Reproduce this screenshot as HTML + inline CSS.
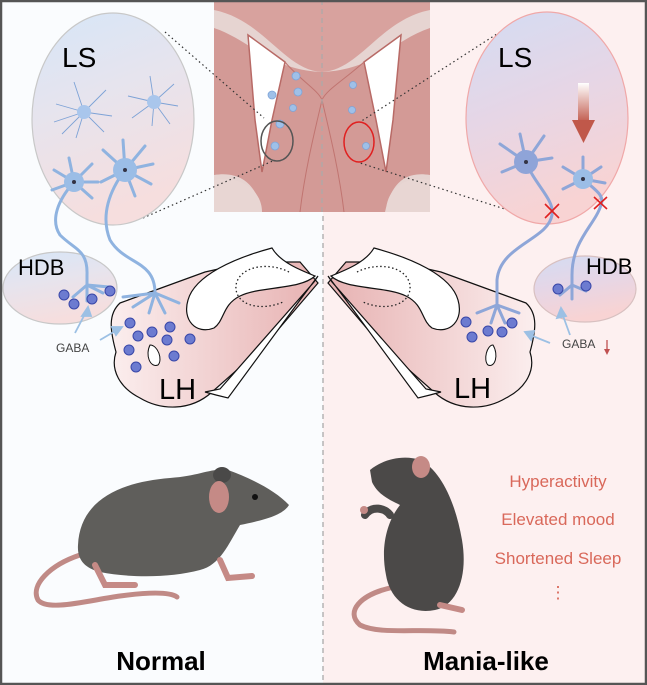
<!DOCTYPE html>
<html><head><meta charset="utf-8"><style>
html,body{margin:0;padding:0;background:#fff}
svg{display:block}
text{font-family:"Liberation Sans",sans-serif}
</style></head><body>
<svg width="647" height="685" viewBox="0 0 647 685" xmlns="http://www.w3.org/2000/svg">
<defs>
<linearGradient id="ls" x1="0" y1="0" x2="0.3" y2="1">
<stop offset="0" stop-color="#d6e6f8"/><stop offset="0.45" stop-color="#e6e4ee"/><stop offset="1" stop-color="#f6dede"/></linearGradient>
<linearGradient id="lsr" x1="0" y1="0" x2="0.3" y2="1">
<stop offset="0" stop-color="#d3dcf3"/><stop offset="0.5" stop-color="#e6d6e6"/><stop offset="1" stop-color="#f8d3d3"/></linearGradient>
<linearGradient id="lh" x1="0" y1="0" x2="1" y2="0">
<stop offset="0" stop-color="#fbeeee"/><stop offset="1" stop-color="#e7b2b2"/></linearGradient>
<linearGradient id="arr" x1="0" y1="0" x2="0" y2="1">
<stop offset="0" stop-color="#fff"/><stop offset="1" stop-color="#c0584a"/></linearGradient>
<g id="lhshape">
<path d="M120,303 C150,292 175,283 205,272 L250,262 L300,262 L318,283 L265,345 L212,392 C190,412 160,410 140,398 C120,388 110,370 116,352 C110,330 108,314 120,303 Z" fill="url(#lh)" stroke="#111" stroke-width="1.2"/>
<path d="M205,392 L220,389 L314,282 L318,276 L300,300 L228,398 L216,395 Z" fill="#fff" stroke="#111" stroke-width="1.2"/>
<path d="M272,248 C235,258 195,275 188,300 C182,320 196,335 214,328 C225,320 222,305 240,296 C260,286 300,290 315,276 C300,270 280,262 272,248 Z" fill="#fff" stroke="#111" stroke-width="1.2"/>
<path d="M289,272 C270,262 240,265 236,285 C234,305 260,312 283,302" fill="none" stroke="#222" stroke-width="1.3" stroke-dasharray="1.5,2.5"/>
</g>
</defs>
<rect x="0" y="0" width="647" height="685" fill="#fafcfe"/>
<rect x="323" y="0" width="324" height="685" fill="#fdf0f0"/>
<line x1="323" y1="0" x2="323" y2="685" stroke="#aaa" stroke-width="1.3" stroke-dasharray="5,4"/>

<!-- center brain section -->
<rect x="214" y="0" width="216" height="212" fill="#e6d4d1"/>
<path d="M214,0 L430,0 L430,10 C380,20 360,70 322,72 C284,70 264,20 214,10 Z" fill="#d8a29e"/>
<path d="M214,28 C250,40 270,70 322,72 C374,70 394,40 430,28 L430,175 C400,170 390,190 385,212 L262,212 C258,190 245,170 214,175 Z" fill="#d39a96"/>
<path d="M248,35 L285,62 L272,120 L262,172 L255,120 Z" fill="#fff" stroke="#b86a66" stroke-width="1.5"/>
<path d="M401,35 L364,62 L376,120 L386,172 L393,120 Z" fill="#fff" stroke="#b86a66" stroke-width="1.5"/>
<path d="M285,62 C300,80 318,90 322,100 C326,90 344,80 364,62" fill="none" stroke="#c07470" stroke-width="1"/>
<path d="M300,212 C305,170 315,130 322,100 C329,130 339,170 344,212" fill="none" stroke="#c07470" stroke-width="1"/>
<path d="M214,180 C240,175 262,190 262,212 L214,212 Z" fill="#e8d6d3"/>
<path d="M430,180 C404,175 386,190 386,212 L430,212 Z" fill="#e8d6d3"/>
<line x1="322" y1="0" x2="322" y2="212" stroke="#aaa" stroke-width="1.2" stroke-dasharray="5,4"/>
<g fill="#9fc0e8" stroke="#7ea4d8" stroke-width="0.8">
<circle cx="296" cy="76" r="4"/><circle cx="272" cy="95" r="4"/><circle cx="298" cy="92" r="4"/><circle cx="293" cy="108" r="3.5"/><circle cx="280" cy="124" r="4"/><circle cx="275" cy="146" r="4"/><circle cx="353" cy="85" r="3.5"/><circle cx="352" cy="110" r="3.5"/><circle cx="366" cy="146" r="3.5"/></g>
<ellipse cx="277" cy="141" rx="16" ry="20" fill="none" stroke="#555" stroke-width="1.5"/>
<ellipse cx="359" cy="142" rx="15" ry="20" fill="none" stroke="#e02020" stroke-width="1.5"/>
<g stroke="#333" stroke-width="1.2" stroke-dasharray="1.5,3" fill="none">
<line x1="165" y1="32" x2="264" y2="118"/><line x1="143" y1="218" x2="275" y2="160"/>
<line x1="500" y1="32" x2="360" y2="122"/><line x1="508" y1="210" x2="360" y2="163"/></g>

<!-- ellipses -->
<ellipse cx="113" cy="119" rx="81" ry="106" fill="url(#ls)" stroke="#c8c8c8" stroke-width="1.2"/>
<ellipse cx="547" cy="118" rx="81" ry="106" fill="url(#lsr)" stroke="#f0a8a8" stroke-width="1.2"/>
<ellipse cx="60" cy="288" rx="57" ry="36" fill="url(#ls)" stroke="#c8c8c8" stroke-width="1.2"/>
<ellipse cx="585" cy="289" rx="51" ry="33" fill="url(#lsr)" stroke="#d8c0c0" stroke-width="1.2"/>

<use href="#lhshape"/>
<use href="#lhshape" transform="translate(646,0) scale(-1,1)"/>

<!-- left LS small neurons -->
<g stroke="#7da2d6" stroke-width="0.9" fill="none">
<path d="M84,112 l-28,-8 M84,112 l-30,10 M84,112 l-10,-30 M84,112 l22,-22 M84,112 l28,4 M84,112 l20,20 M84,112 l-8,26 M84,112 l-22,22"/>
<path d="M154,102 l-26,-6 M154,102 l-22,16 M154,102 l-4,-26 M154,102 l20,-18 M154,102 l24,4 M154,102 l16,22 M154,102 l-2,24"/></g>
<circle cx="84" cy="112" r="7" fill="#a9c6ec"/><circle cx="154" cy="102" r="7" fill="#a9c6ec"/>

<!-- left neurons + axons -->
<g stroke="#8fb3e0" stroke-width="3" fill="none" stroke-linecap="round">
<path d="M74,182 C58,200 50,220 60,235 C75,250 88,250 87,275 L87,285 M87,285 l-14,12 M87,285 l0,16 M87,285 l16,8 M87,285 l22,2"/>
<path d="M125,170 C110,190 100,215 110,240 C125,265 155,260 155,293 M155,293 l-22,14 M155,293 l-6,20 M155,293 l10,20 M155,293 l24,10 M155,293 l-32,4"/>
<path d="M74,182 l-20,-12 M74,182 l-5,-24 M74,182 l18,-18 M74,182 l24,0 M74,182 l18,16 M74,182 l-22,8"/>
<path d="M125,170 l-22,-20 M125,170 l-2,-30 M125,170 l20,-24 M125,170 l28,-6 M125,170 l26,14 M125,170 l10,26 M125,170 l-24,12"/></g>
<circle cx="74" cy="182" r="10" fill="#9bbde6"/><circle cx="74" cy="182" r="2" fill="#334"/>
<circle cx="125" cy="170" r="12" fill="#9bbde6"/><circle cx="125" cy="170" r="2" fill="#334"/>

<!-- right neurons -->
<g stroke="#8ea6d8" stroke-width="3" fill="none" stroke-linecap="round">
<path d="M526,162 C535,185 555,200 552,215 C548,240 500,245 497,280 L497,305 M497,305 l-20,8 M497,305 l-6,18 M497,305 l8,18 M497,305 l22,8"/>
<path d="M583,179 C595,190 605,195 601,205 C595,225 572,240 572,275 L572,285 M572,285 l-12,10 M572,285 l0,14 M572,285 l14,6"/>
<path d="M526,162 l-26,-18 M526,162 l-6,-28 M526,162 l18,-26 M526,162 l26,-4 M526,162 l-24,10"/>
<path d="M583,179 l-20,-12 M583,179 l0,-22 M583,179 l18,-12 M583,179 l22,4 M583,179 l-20,10"/></g>
<circle cx="526" cy="162" r="12" fill="#8fa4d8"/><circle cx="526" cy="162" r="2" fill="#334"/>
<circle cx="583" cy="179" r="10" fill="#9bbde6"/><circle cx="583" cy="179" r="2" fill="#334"/>
<g stroke="#e02020" stroke-width="1.6"><path d="M545,204 l14,14 M559,204 l-14,14 M594,197 l13,12 M607,197 l-13,12"/></g>
<rect x="578" y="83" width="11" height="40" fill="url(#arr)"/>
<path d="M572,120 L595,120 L583.5,143 Z" fill="#c0584a"/>

<!-- dots -->
<g fill="#6c7bd0" stroke="#3947a8" stroke-width="1">
<circle cx="64" cy="295" r="5"/><circle cx="74" cy="304" r="5"/><circle cx="92" cy="299" r="5"/><circle cx="110" cy="291" r="5"/>
<circle cx="130" cy="323" r="5"/><circle cx="138" cy="336" r="5"/><circle cx="152" cy="332" r="5"/><circle cx="170" cy="327" r="5"/><circle cx="167" cy="340" r="5"/><circle cx="190" cy="339" r="5"/><circle cx="129" cy="350" r="5"/><circle cx="174" cy="356" r="5"/><circle cx="136" cy="367" r="5"/>
<circle cx="558" cy="289" r="5"/><circle cx="586" cy="286" r="5"/>
<circle cx="466" cy="322" r="5"/><circle cx="472" cy="337" r="5"/><circle cx="488" cy="331" r="5"/><circle cx="502" cy="332" r="5"/><circle cx="512" cy="323" r="5"/></g>
<path d="M150,345 C145,355 150,368 158,365 C163,360 158,345 150,345 Z" fill="#fff" stroke="#111"/>
<path d="M493,345 C499,355 495,368 488,365 C483,360 487,345 493,345 Z" fill="#fff" stroke="#111"/>

<!-- GABA arrows -->
<g stroke="#9cc0e4" stroke-width="1.8" fill="#9cc0e4">
<line x1="75" y1="333" x2="86" y2="312"/><path d="M88,307 L82,316 L91,316 Z"/>
<line x1="100" y1="340" x2="117" y2="330"/><path d="M122,327 L112,327 L116,335 Z"/>
<line x1="570" y1="335" x2="562" y2="313"/><path d="M561,308 L557,318 L566,316 Z"/>
<line x1="550" y1="343" x2="530" y2="335"/><path d="M525,332 L531,340 L534,331 Z"/></g>
<line x1="607" y1="340" x2="607" y2="352" stroke="#c05050" stroke-width="1.3"/><path d="M604,349 L610,349 L607,355 Z" fill="#c05050"/>

<text x="62" y="67" font-size="28">LS</text>
<text x="498" y="67" font-size="28">LS</text>
<text x="18" y="275" font-size="22">HDB</text>
<text x="586" y="274" font-size="22">HDB</text>
<text x="159" y="399" font-size="29">LH</text>
<text x="454" y="398" font-size="29">LH</text>
<text x="56" y="352" font-size="12" fill="#444">GABA</text>
<text x="562" y="348" font-size="12" fill="#444">GABA</text>

<!-- normal mouse -->
<path d="M80,555 C50,565 30,585 38,600 C48,612 90,600 120,596 C150,592 170,592 177,597" fill="none" stroke="#c08a86" stroke-width="5" stroke-linecap="round"/>
<path d="M78,545 C80,500 120,482 170,478 C200,476 210,468 228,470 C250,478 275,490 289,505 C283,515 265,520 240,525 C228,545 220,565 200,570 C170,578 130,578 100,572 C85,568 77,560 78,545 Z" fill="#5f5e5b"/>
<ellipse cx="222" cy="475" rx="9" ry="8" fill="#4a4948"/>
<ellipse cx="219" cy="497" rx="10" ry="16" fill="#c58a86"/>
<circle cx="255" cy="497" r="3" fill="#111"/>
<path d="M95,565 L105,585 L135,585 M220,560 L228,578 L252,576" fill="none" stroke="#c58a86" stroke-width="6" stroke-linecap="round"/>

<!-- mania mouse -->
<path d="M390,588 C360,595 345,612 360,625 C380,635 420,628 454,632" fill="none" stroke="#c08a86" stroke-width="5" stroke-linecap="round"/>
<path d="M370,470 C385,458 405,455 420,460 C440,470 455,500 462,540 C468,575 458,605 435,610 C410,615 390,600 386,575 C380,545 388,520 400,505 C390,500 378,495 372,482 Z" fill="#4b4948"/>
<ellipse cx="421" cy="467" rx="9" ry="11" fill="#c58a86"/>
<path d="M365,515 C372,505 385,508 390,515" fill="none" stroke="#4b4948" stroke-width="8" stroke-linecap="round"/>
<circle cx="364" cy="510" r="4" fill="#c58a86"/>
<path d="M440,605 L462,610" stroke="#c58a86" stroke-width="6" stroke-linecap="round"/>

<g fill="#d9685a" font-size="17" text-anchor="middle">
<text x="558" y="487">Hyperactivity</text>
<text x="558" y="525">Elevated mood</text>
<text x="558" y="564">Shortened Sleep</text>
<text x="558" y="598">⋮</text></g>
<text x="161" y="670" font-size="26" font-weight="bold" text-anchor="middle">Normal</text>
<text x="486" y="670" font-size="26" font-weight="bold" text-anchor="middle">Mania-like</text>
<rect x="1" y="1" width="645" height="683" fill="none" stroke="#555" stroke-width="2.5"/>
</svg>
</body></html>
